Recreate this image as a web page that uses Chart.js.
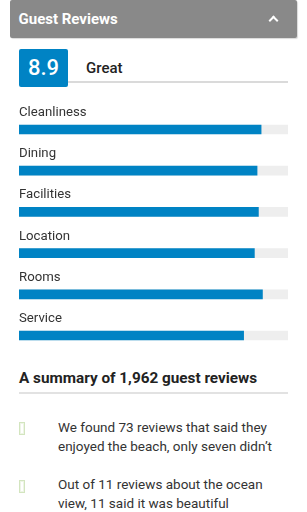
<!DOCTYPE html>
<html>
<head>
<meta charset="utf-8">
<script src="https://cdn.jsdelivr.net/npm/chart.js@4"></script>
<style>
  body { margin: 0; background: #fff; font-family: Roboto, sans-serif; width: 307px; height: 512px; overflow: hidden; position: relative; }
  .abs { position: absolute; white-space: nowrap; }
  #header { left: 10px; top: 0; width: 287px; height: 38px; background: #898989; border-radius: 2px; box-shadow: 1px 1px 1px rgba(0,0,0,0.15); }
  #title { left: 8.5px; top: 9px; font-size: 15px; line-height: 20px; font-weight: bold; color: #fff; }
  #chev { left: 260px; top: 17px; width: 5px; height: 5px; border-top: 2px solid #fff; border-left: 2px solid #fff; transform: rotate(45deg); }
  #scoreBox { left: 19px; top: 49px; width: 49px; height: 38px; background: #0083c4; border-radius: 2px; }
  #score { left: 0; width: 49px; top: 7.5px; font-size: 22px; line-height: 22px; font-weight: 500; color: #fff; text-align: center; }
  #verdict { left: 86px; top: 57.5px; font-size: 15px; line-height: 20px; font-weight: 500; color: #222; }
  #rule1 { left: 68px; top: 81px; width: 220px; height: 2px; background: #dadada; }
  #summary { left: 19px; top: 368px; font-size: 15.3px; line-height: 20px; font-weight: bold; color: #222; }
  #rule2 { left: 19px; top: 392px; width: 269px; height: 2px; background: #e2e2e2; }
  .bullet { left: 58px; font-size: 13.5px; line-height: 19px; color: #333; }
  .icon { left: 18.5px; width: 4px; height: 11px; border: 1px solid #d3e5bf; box-shadow: inset 0 0 0 1px #eef5e6; }
  #wrap { position: absolute; left: 0; top: 100px; width: 307px; height: 260px; }
</style>
</head>
<body>
<div id="header" class="abs">
  <div id="title" class="abs">Guest Reviews</div>
  <div id="chev" class="abs"></div>
</div>
<div id="scoreBox" class="abs"><div id="score" class="abs"></div></div>
<div id="verdict" class="abs"></div>
<div id="rule1" class="abs"></div>
<div id="wrap"><canvas id="ratings"></canvas></div>
<div id="summary" class="abs"></div>
<div id="rule2" class="abs"></div>
<div id="bullets"></div>

<script>
var overallScore = '8.9';
var overallWord = 'Great';
var reviewCount = '1,962';

var categories = ['Cleanliness', 'Dining', 'Facilities', 'Location', 'Rooms', 'Service'];
var ratings = [9.0, 8.85, 8.9, 8.75, 9.05, 8.35];
var maxRating = 10;

var highlights = [
	['We found 73 reviews that said they', 'enjoyed the beach, only seven didn\u2019t'],
	['Out of 11 reviews about the ocean', 'view, 11 said it was beautiful']
];

document.getElementById('score').textContent = overallScore;
document.getElementById('verdict').textContent = overallWord;
document.getElementById('summary').textContent = 'A summary of ' + reviewCount + ' guest reviews';

var bulletTops = [417.5, 475];
var holder = document.getElementById('bullets');
for (var i = 0; i < highlights.length; i++) {
	var icon = document.createElement('div');
	icon.className = 'abs icon';
	icon.style.top = (bulletTops[i] + 4.5) + 'px';
	holder.appendChild(icon);
	var txt = document.createElement('div');
	txt.className = 'abs bullet';
	txt.style.top = bulletTops[i] + 'px';
	txt.innerHTML = highlights[i].join('<br>');
	holder.appendChild(txt);
}

// category names sit above each bar
var labelPlugin = {
	id: 'labelsAbove',
	afterDatasetsDraw: function(chart) {
		var ctx = chart.ctx;
		var yScale = chart.scales.y;
		ctx.save();
		ctx.font = '13.2px Roboto';
		ctx.fillStyle = '#333';
		ctx.textBaseline = 'alphabetic';
		ctx.textAlign = 'left';
		chart.data.labels.forEach(function(lab, idx) {
			ctx.fillText(lab, chart.chartArea.left, yScale.getPixelForValue(idx) - 13.5);
		});
		ctx.restore();
	}
};

new Chart(document.getElementById('ratings'), {
	type: 'bar',
	data: {
		labels: categories,
		datasets: [{
			data: ratings,
			backgroundColor: '#0083c4',
			barThickness: 9,
			grouped: false,
			order: 1
		}, {
			data: categories.map(function() { return maxRating; }),
			backgroundColor: '#eeeeee',
			barThickness: 9,
			grouped: false,
			order: 2
		}]
	},
	options: {
		indexAxis: 'y',
		responsive: true,
		maintainAspectRatio: false,
		animation: false,
		layout: { padding: { left: 19, right: 19, top: 8.9, bottom: 3.9 } },
		plugins: { legend: { display: false }, tooltip: { enabled: false } },
		scales: {
			x: { display: false, min: 0, max: maxRating },
			y: { display: false }
		}
	},
	plugins: [labelPlugin]
});
</script>
</body>
</html>
